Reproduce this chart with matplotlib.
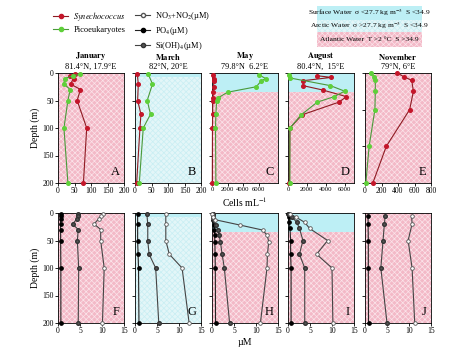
import matplotlib
matplotlib.use("Agg")
import matplotlib.pyplot as plt
from matplotlib.lines import Line2D
from matplotlib.patches import Rectangle

plt.rcParams["font.family"] = "serif"
plt.rcParams["font.serif"] = ["Liberation Serif", "DejaVu Serif"]
plt.rcParams["mathtext.fontset"] = "stix"
plt.rcParams["hatch.linewidth"] = 0.5

# stations
months = ["January", "March", "May", "August", "November"]
positions = ["81.4°N, 17.9°E", "82°N, 20°E", "79.8°N  6.2°E", "80.4°N,  15°E", "79°N, 6°E"]
top_letters = ["A", "B", "C", "D", "E"]
bottom_letters = ["F", "G", "H", "I", "J"]

# water masses: depth of surface layer and the mass below it
surface_bottom = [0, 7, 35, 35, 0]
lower_mass = ["atlantic", "arctic", "atlantic", "atlantic", "atlantic"]
max_depth = [200, 200, 200, 200, 150]

# cell counts (cells/mL)
depth_jan = [2, 5, 10, 20, 30, 50, 100, 200]
syn_jan = [53, 35, 47, 38, 68, 58, 87, 77]
pico_jan = [68, 45, 20, 18, 37, 30, 18, 30]

depth_mar = [2, 20, 50, 75, 100, 200]
syn_mar = [7, 10, 8, 18, 15, 5]
pico_mar = [40, 53, 37, 47, 25, 13]

depth_may = [3, 10, 15, 25, 35, 45, 50, 75, 100, 200]
syn_may = [150, 200, 250, 200, 150, 150, 100, 80, 60, 40]
pico_may = [6000, 6900, 6300, 5700, 2000, 800, 600, 500, 450, 500]

depth_aug_syn = [5, 8, 14, 23, 31, 43, 53, 76, 100, 200]
syn_aug = [3100, 4600, 1600, 1600, 3700, 6200, 5400, 1500, 200, 150]
depth_aug_pico = [4, 9, 23, 33, 43, 53, 76, 100, 200]
pico_aug = [100, 200, 4500, 6000, 4900, 3100, 1400, 200, 200]

depth_nov = [0, 5, 10, 25, 50, 100, 150]
syn_nov = [390, 470, 566, 587, 541, 258, 95]
pico_nov = [70, 110, 125, 125, 120, 50, 10]

cell_xlim = [200, 200, 8500, 7000, 800]
cell_xticks = [[0, 50, 100, 150, 200], [0, 50, 100, 150, 200],
               [0, 2000, 4000, 6000], [0, 2000, 4000, 6000],
               [0, 200, 400, 600, 800]]

# nutrients (uM)
nut_depth_jan = [2, 5, 10, 20, 30, 50, 100, 200]
no3_jan = [10.2, 9.8, 9.3, 8.2, 9.7, 9.7, 10.5, 10.1]
si_jan = [4.6, 4.6, 4.4, 3.3, 4.6, 4.4, 4.7, 4.6]
po4_jan = [0.6, 0.6, 0.6, 0.6, 0.6, 0.6, 0.65, 0.65]

nut_depth_mar = [2, 20, 50, 75, 100, 200]
no3_mar = [7.0, 7.0, 7.0, 7.8, 10.7, 12.3]
si_mar = [2.7, 2.9, 2.9, 3.2, 4.7, 5.4]
po4_mar = [0.6, 0.6, 0.6, 0.7, 0.8, 0.9]

nut_depth_may = [2, 7, 12, 22, 31, 40, 52, 75, 100, 200]
no3_may = [0.0, 0.2, 0.6, 6.4, 11.5, 12.5, 12.9, 12.6, 12.5, 11.0]
si_may = [0.2, 0.3, 0.5, 0.9, 1.3, 1.6, 1.9, 2.3, 2.8, 4.0]
po4_may = [0.2, 0.25, 0.3, 0.4, 0.5, 0.6, 0.65, 0.7, 0.75, 0.8]

nut_depth_aug = [2, 8, 17, 28, 50, 75, 100, 200]
no3_aug = [0.4, 1.9, 3.8, 4.9, 9.0, 6.5, 10.0, 10.2]
si_aug = [0.3, 1.0, 2.0, 2.6, 3.4, 2.6, 3.8, 3.8]
po4_aug = [0.1, 0.2, 0.3, 0.45, 0.6, 0.6, 0.7, 0.7]

nut_depth_nov = [5, 20, 50, 100, 200]
no3_nov = [10.6, 10.7, 9.8, 10.7, 11.3]
si_nov = [4.6, 4.4, 4.1, 3.6, 5.0]
po4_nov = [0.7, 0.7, 0.75, 0.75, 0.8]

cells = [
    (depth_jan, syn_jan, depth_jan, pico_jan),
    (depth_mar, syn_mar, depth_mar, pico_mar),
    (depth_may, syn_may, depth_may, pico_may),
    (depth_aug_syn, syn_aug, depth_aug_pico, pico_aug),
    (depth_nov, syn_nov, depth_nov, pico_nov),
]
nutrients = [
    (nut_depth_jan, no3_jan, si_jan, po4_jan),
    (nut_depth_mar, no3_mar, si_mar, po4_mar),
    (nut_depth_may, no3_may, si_may, po4_may),
    (nut_depth_aug, no3_aug, si_aug, po4_aug),
    (nut_depth_nov, no3_nov, si_nov, po4_nov),
]

RED = "#c4162a"
RED_LINE = "#8e1b22"
GREEN = "#5fd03a"
GREEN_LINE = "#4a9a3a"
SURFACE = "#bdeff5"
ARCTIC = "#e3f6f8"
ATLANTIC = "#f3b9c7"

W, H = 474, 347
fig = plt.figure(figsize=(W / 100, H / 100), dpi=100)


def px_axes(x0, y0, w, h):
    return fig.add_axes([x0 / W, 1 - (y0 + h) / H, w / W, h / H])


def water(ax, i, dmax):
    s = surface_bottom[i]
    if lower_mass[i] == "arctic":
        ax.axhspan(s, dmax, facecolor=ARCTIC, edgecolor="#c9eef3", hatch="xxxxxx", lw=0)
    else:
        ax.axhspan(s, dmax, facecolor=ATLANTIC, edgecolor="#fbe4ea", hatch="xxxxxx", lw=0)
    if s > 0:
        ax.axhspan(0, s, facecolor=SURFACE, lw=0)


def style(ax, i, dmax, letter):
    ax.set_ylim(dmax, 0)
    ax.set_yticks(range(0, dmax + 1, 50))
    if i > 0:
        ax.set_yticklabels([])
    ax.tick_params(labelsize=5.5, length=2, width=0.6, pad=1)
    for sp in ax.spines.values():
        sp.set_linewidth(0.6)
    ax.text(0.93, 0.1, letter, transform=ax.transAxes, fontsize=9,
            ha="right", va="center")


lefts = [58, 135, 212, 288, 365]
for i, x0 in enumerate(lefts):
    dmax = max_depth[i]

    # cell counts
    ax = px_axes(x0, 73, 66, 110)
    water(ax, i, dmax)
    ds, syn, dp, pico = cells[i]
    ax.plot(syn, ds, color=RED_LINE, lw=0.8, marker="o", ms=2.6,
            mfc=RED, mec=RED, zorder=3, clip_on=False)
    ax.plot(pico, dp, color=GREEN_LINE, lw=0.8, marker="o", ms=2.6,
            mfc=GREEN, mec=GREEN, zorder=3, clip_on=False)
    ax.set_xlim(0, cell_xlim[i])
    ax.set_xticks(cell_xticks[i])
    style(ax, i, dmax, top_letters[i])
    if cell_xlim[i] > 1000:
        ax.tick_params(axis="x", labelsize=4.8)
    ax.set_title(r"$\bf{" + months[i] + "}$\n" + positions[i], fontsize=6,
                 pad=3, linespacing=1.1)
    if i == 0:
        ax.set_ylabel("Depth (m)", fontsize=7, labelpad=2)
    if i == 2:
        ax.set_xlabel("Cells mL$^{-1}$", fontsize=7, labelpad=2)

    # nutrients
    ax = px_axes(x0, 213, 66, 110)
    water(ax, i, 200)
    dn, no3, si, po4 = nutrients[i]
    ax.plot(po4, dn, color="#222222", lw=0.8, marker="o", ms=2.4,
            mfc="black", mec="black", zorder=3, clip_on=False)
    ax.plot(si, dn, color="#444444", lw=0.8, marker="o", ms=2.6,
            mfc="#555555", mec="#333333", zorder=3, clip_on=False)
    ax.plot(no3, dn, color="#444444", lw=0.8, marker="o", ms=2.6,
            mfc="white", mec="#555555", mew=0.6, zorder=3, clip_on=False)
    ax.set_xlim(0, 15)
    ax.set_xticks([0, 5, 10, 15])
    style(ax, i, 200, bottom_letters[i])
    if i == 0:
        ax.set_ylabel("Depth (m)", fontsize=7, labelpad=2)
    if i == 2:
        ax.set_xlabel("µM", fontsize=7, labelpad=2)

# legends for the series
cell_handles = [
    Line2D([], [], color=RED_LINE, marker="o", mfc=RED, mec=RED, ms=3, lw=0.8,
           label=r"$\it{Synechococcus}$"),
    Line2D([], [], color=GREEN_LINE, marker="o", mfc=GREEN, mec=GREEN, ms=3, lw=0.8,
           label="Picoeukaryotes"),
]
fig.legend(handles=cell_handles, loc="upper left", bbox_to_anchor=(50 / W, 1 - 7 / H),
           frameon=False, fontsize=6, handlelength=1.8, labelspacing=0.35,
           handletextpad=0.6, borderaxespad=0)

nut_handles = [
    Line2D([], [], color="#444444", marker="o", mfc="white", mec="#555555", ms=3, lw=0.8,
           label="NO$_3$+NO$_2$(µM)"),
    Line2D([], [], color="#222222", marker="o", mfc="black", mec="black", ms=3, lw=0.8,
           label="PO$_4$(µM)"),
    Line2D([], [], color="#444444", marker="o", mfc="#555555", mec="#333333", ms=3, lw=0.8,
           label="Si(OH)$_4$(µM)"),
]
fig.legend(handles=nut_handles, loc="upper left", bbox_to_anchor=(132 / W, 1 - 7 / H),
           frameon=False, fontsize=6, handlelength=1.8, labelspacing=0.35,
           handletextpad=0.6, borderaxespad=0)

# water mass key
key_rows = [
    (6, 20, SURFACE, None, None, "Surface Water  σ <27.7 kg m$^{-3}$  S <34.9"),
    (20, 32, ARCTIC, "#c9eef3", "xxxxxx", "Arctic Water  σ >27.7 kg m$^{-3}$  S <34.9"),
    (32, 47, ATLANTIC, "#fbe4ea", "xxxxxx", "Atlantic Water  T >2 °C  S >34.9"),
]
for y0, y1, fc, ec, hatch, label in key_rows:
    rect = Rectangle((317 / W, 1 - y1 / H), 105 / W, (y1 - y0) / H,
                     transform=fig.transFigure, facecolor=fc,
                     edgecolor=ec if ec else fc, hatch=hatch, lw=0)
    fig.patches.append(rect)
    fig.text(369 / W, 1 - (y0 + y1) / 2 / H, label, fontsize=5.4,
             ha="center", va="center")

fig.savefig("out.png", dpi=100)
